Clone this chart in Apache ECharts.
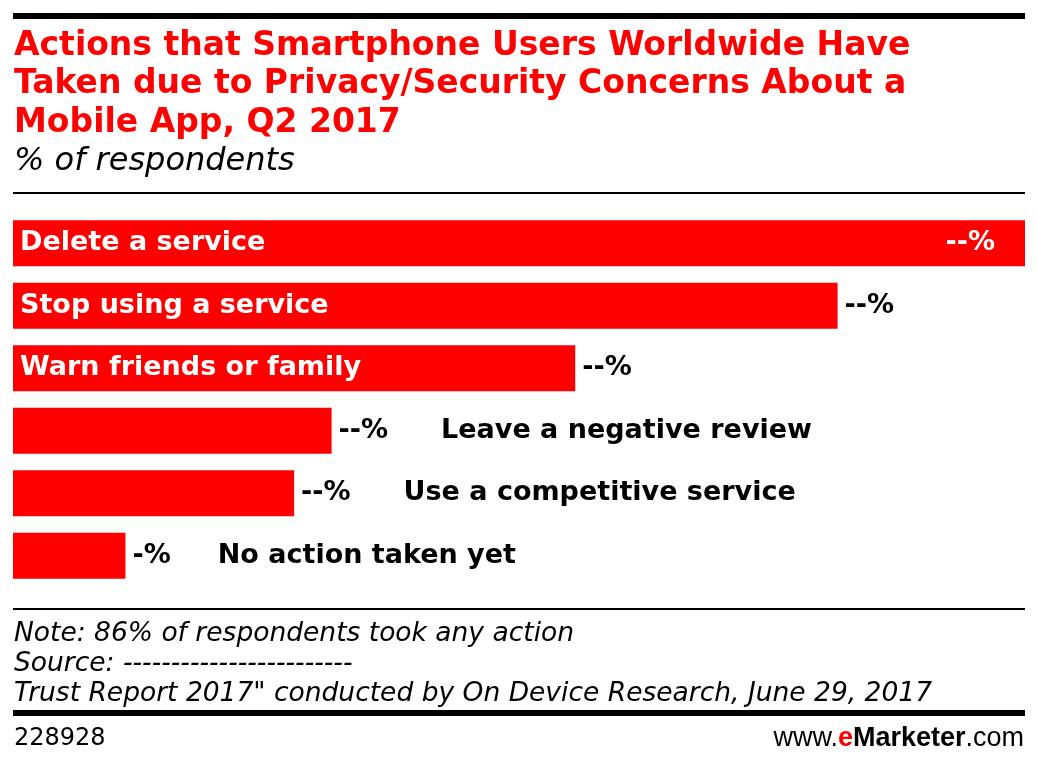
<!DOCTYPE html>
<html>
<head>
<meta charset="utf-8">
<script src="https://cdn.jsdelivr.net/npm/echarts@6/dist/echarts.min.js"></script>
<style>
  html, body { margin: 0; padding: 0; background: #fff; }
  #main { width: 1038px; height: 764px; }
</style>
</head>
<body>
<div id="main"></div>
<script>
// data (bar lengths estimated, labels are masked in the source)
var categories = ['Delete a service', 'Stop using a service', 'Warn friends or family',
                  'Leave a negative review', 'Use a competitive service', 'No action taken yet'];
var values = [54, 44, 30, 17, 15, 6];
var valueLabels = ['--%', '--%', '--%', '--%', '--%', '-%'];
var insideCount = 3;   // first bars carry their name inside the bar

var RED = '#ff0000';
var BOLD = 'DejaVu Sans';
var ITAL = 'DejaVu Sans';

function MAKE_CHART(){
    var chart = echarts.init(document.getElementById('main'));

    var barData = values.map(function(v, i){
        if (i < insideCount) {
            return {
                value: v,
                label: {
                    show: true,
                    position: 'insideLeft',
                    distance: 7,
                    formatter: categories[i],
                    color: '#fff',
                    fontFamily: BOLD,
                    fontWeight: 'bold',
                    fontSize: 27
                }
            };
        }
        return {
            value: v,
            label: {
                show: true,
                position: 'right',
                distance: 7,
                formatter: '{v|' + valueLabels[i] + '}{g|}{n|' + categories[i] + '}',
                rich: {
                    v: { color: '#000', fontFamily: BOLD, fontWeight: 'bold', fontSize: 27 },
                    g: { width: valueLabels[i].length > 2 ? 53 : 47 },
                    n: { color: '#000', fontFamily: BOLD, fontWeight: 'bold', fontSize: 27 }
                }
            }
        };
    });

    // value labels for the bars that hold their name inside
    var valData = values.map(function(v, i){
        if (i >= insideCount) return { value: v, label: { show: false } };
        return {
            value: v,
            label: {
                show: true,
                position: i === 0 ? 'insideRight' : 'right',
                distance: i === 0 ? 30 : 7,
                formatter: valueLabels[i],
                color: i === 0 ? '#fff' : '#000',
                fontFamily: BOLD,
                fontWeight: 'bold',
                fontSize: 27
            }
        };
    });

    var opts = {
        backgroundColor: '#fff',
        animation: false,
        title: [
            {
                text: 'Actions that Smartphone Users Worldwide Have\nTaken due to Privacy/Security Concerns About a\nMobile App, Q2 2017',
                left: 9, top: 22,
                textStyle: { color: RED, fontFamily: BOLD, fontWeight: 'bold', fontSize: 33, lineHeight: 38.5 }
            },
            {
                text: '% of respondents',
                left: 9, top: 141,
                textStyle: { color: '#000', fontFamily: ITAL, fontStyle: 'italic', fontWeight: 'normal', fontSize: 32 }
            },
            {
                text: 'Note: 86% of respondents took any action\nSource: ------------------------\nTrust Report 2017" conducted by On Device Research, June 29, 2017',
                left: 9, top: 614,
                textStyle: { color: '#000', fontFamily: ITAL, fontStyle: 'italic', fontWeight: 'normal', fontSize: 26.5, lineHeight: 30 }
            },
            {
                text: '228928',
                left: 9, top: 722,
                textStyle: { color: '#000', fontFamily: ITAL, fontWeight: 'normal', fontSize: 24 }
            },
            {
                text: '{a|www.}{b|e}{c|Marketer}{a|.com}',
                right: 9, top: 720,
                textStyle: {
                    rich: {
                        a: { color: '#000', fontFamily: 'Liberation Sans', fontWeight: 'normal', fontSize: 27 },
                        b: { color: RED, fontFamily: 'Liberation Sans', fontWeight: 'bold', fontSize: 27 },
                        c: { color: '#000', fontFamily: 'Liberation Sans', fontWeight: 'bold', fontSize: 27 }
                    }
                }
            }
        ],
        graphic: [
            { type: 'rect', shape: { x: 13, y: 13, width: 1012, height: 6 }, style: { fill: '#000' } },
            { type: 'rect', shape: { x: 13, y: 192, width: 1012, height: 2 }, style: { fill: '#000' } },
            { type: 'rect', shape: { x: 13, y: 608, width: 1012, height: 2 }, style: { fill: '#000' } },
            { type: 'rect', shape: { x: 13, y: 710, width: 1012, height: 6 }, style: { fill: '#000' } }
        ],
        grid: { left: 13, right: 13, top: 212, height: 375, containLabel: false },
        xAxis: { type: 'value', min: 0, max: values[0], show: false },
        yAxis: {
            type: 'category', inverse: true, data: categories, show: false
        },
        series: [
            {
                type: 'bar', data: barData, barWidth: 46,
                itemStyle: { color: RED }, silent: true
            },
            {
                type: 'bar', data: valData, barWidth: 46, barGap: '-100%',
                itemStyle: { color: 'rgba(0,0,0,0)' }, silent: true, z: 3
            }
        ]
    };

    chart.setOption(opts);
}

MAKE_CHART();
</script>
</body>
</html>
